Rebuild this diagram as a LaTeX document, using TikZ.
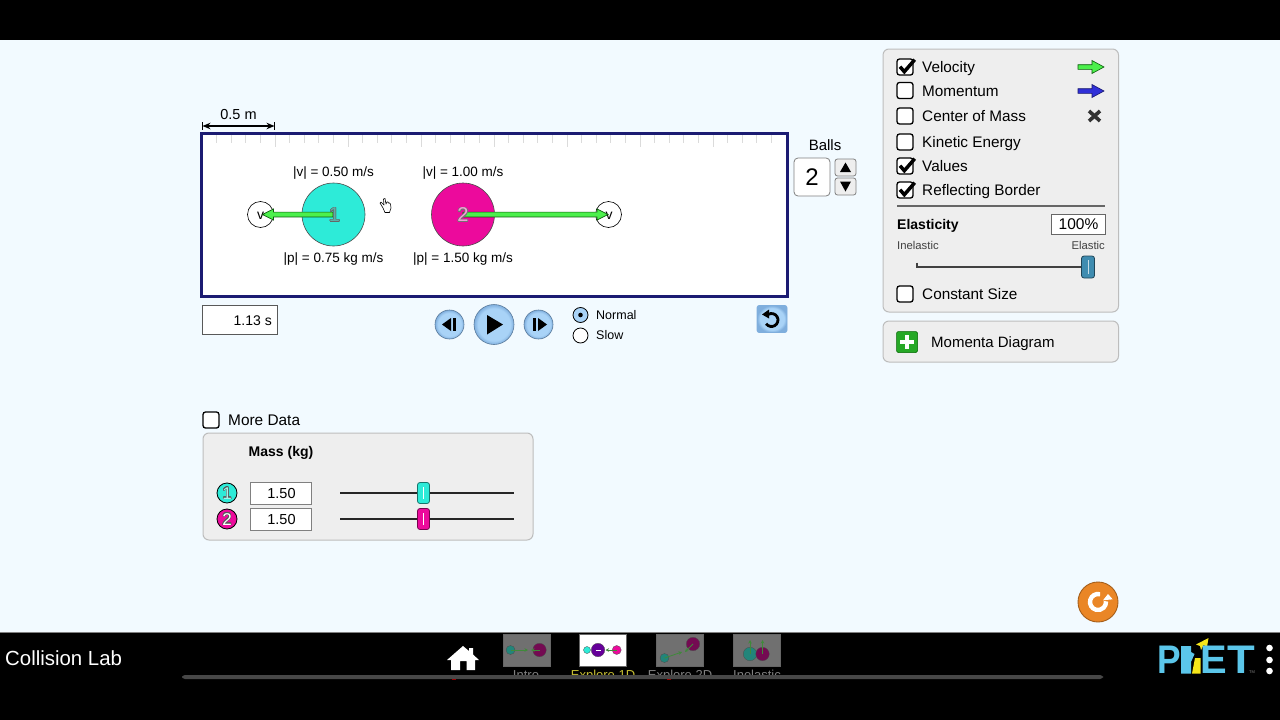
\documentclass[tikz,border=0pt]{standalone}
\usepackage{fontspec}
\usepackage{graphicx}
\usepackage{contour}
\setmainfont{Liberation Sans}
\usetikzlibrary{arrows.meta}
\definecolor{bgc}{HTML}{F2FAFF}
\definecolor{panelc}{HTML}{EEEEEE}
\definecolor{panelb}{HTML}{BDBDBD}
\definecolor{navyb}{HTML}{1B1B72}
\definecolor{turq}{HTML}{2DEBD8}
\definecolor{magn}{HTML}{EC0A9C}
\definecolor{arrg}{HTML}{4CF04C}
\definecolor{arrd}{HTML}{0B5A0B}
\definecolor{btnA}{HTML}{A9D3F7}
\definecolor{btnB}{HTML}{7FAEDD}
\definecolor{logob}{HTML}{5BC6EA}
\definecolor{logoy}{HTML}{F5E61A}
\definecolor{thg}{HTML}{707070}
\definecolor{slb}{HTML}{3F8CB0}
\definecolor{thteal}{HTML}{22857A}
\definecolor{thmag}{HTML}{740A52}
\definecolor{tharr}{HTML}{3F8A3A}
\definecolor{orng}{HTML}{EA8626}
\definecolor{momb}{HTML}{3030D8}
\pgfdeclareradialshading{btnshade}{\pgfpoint{0bp}{0bp}}{color(0bp)=(btnA); color(20bp)=(btnA); color(25bp)=(btnB); color(50bp)=(btnB)}
\tikzset{
  x=1pt,y=-1pt,
  tx/.style={font=\fontsize{#1}{#1}\selectfont,inner sep=0pt,text height={#1*0.72pt},text depth=0pt},
  logotx/.style={font=\fontsize{42}{42}\selectfont\bfseries,inner sep=0pt,text=logob},
  ckb/.style={draw=black,fill=white,rounded corners=2.5pt,line width=1.3pt,minimum size=16pt,inner sep=0pt},
  panelbox/.style={draw=panelb,fill=panelc,rounded corners=6pt,line width=1pt},
  valbox/.style={draw=gray,fill=white,line width=1pt,inner sep=0pt},
  rbtn/.style={circle,draw=btnB!70!black,line width=.6pt,shading=btnshade,inner sep=0pt},
  thumbn/.style={rounded corners=2.5pt,draw=#1!50!black,fill=#1,line width=.8pt,minimum width=12pt,minimum height=21pt,inner sep=0pt},
  thmb/.style={draw=black!60,fill=#1,line width=.4pt,minimum width=47pt,minimum height=32pt,inner sep=0pt},
  tinyball/.style={circle,draw=black!70,line width=.3pt,inner sep=0pt},
  tinyarr/.style={-{Stealth[length=3.5pt,width=3.5pt]},draw=#1,line width=.8pt},
}
\contourlength{.5pt}
\newcommand{\ckrow}[4]{% name, y, text, checked(1/0)
  \node[ckb] (#1box) at (905,#2) {};
  \node[tx=15.3,anchor=west] (#1txt) at (922,#2) {#3};
  \ifnum#4=1 \draw[line width=3.5pt,line join=miter] ([shift={(-5,-.3)}]#1box.center) -- ++(4.3,5) -- ++(10.4,-12); \fi
}
\newcommand{\varrow}[4]{% x1,x2,y,dir(+1 right,-1 left)
  \fill[arrg,draw=arrd,line width=.7pt] (#1,#3-2.4) -- (#2-#4*11,#3-2.4) -- (#2-#4*11,#3-5.6) -- (#2,#3) -- (#2-#4*11,#3+5.6) -- (#2-#4*11,#3+2.4) -- (#1,#3+2.4) -- cycle;
}
\begin{document}
\begin{tikzpicture}
\useasboundingbox (0,0) rectangle (1280,720);
\fill[bgc] (0,0) rectangle (1280,720);
\fill[black] (0,0) rectangle (1280,40);
\fill[black] (0,632) rectangle (1280,720);
\draw[gray,line width=.8pt] (0,632) -- (1280,632);

% play area
\fill[white] (201.5,133.5) rectangle (787.5,296);
\foreach \k in {0,...,40}{\draw[black!14,line width=.7pt] ({202+14.6*\k},135) -- ({202+14.6*\k},143);}
\foreach \k in {0,...,8}{\draw[black!14,line width=.7pt] ({202+73*\k},143) -- ({202+73*\k},147);}
\draw[navyb,line width=3pt] (201.5,133.5) rectangle (787.5,296);

% scale
\node[tx=14.5] (scaletxt) at (238.5,114) {0.5 m};
\coordinate (sl) at (202.5,126);
\coordinate (sr) at (274.5,126);
\draw[{Stealth[length=8pt,width=6.5pt]}-{Stealth[length=8pt,width=6.5pt]},line width=1.6pt] (sl) -- (sr);
\draw[line width=.8pt] (202.5,122) -- (202.5,130) (274.5,122) -- (274.5,130);

% balls
\node[circle,draw=black!70,fill=turq,line width=.6pt,minimum size=63pt,inner sep=0pt] (ball1) at (333.5,214.5) {};
\node[circle,draw=black!70,fill=magn,line width=.6pt,minimum size=63pt,inner sep=0pt] (ball2) at (463,214.5) {};
\node[circle,draw=black,fill=white,line width=.6pt,minimum size=26pt,inner sep=0pt] (v1) at (260.5,214.5) {};
\node[circle,draw=black,fill=white,line width=.6pt,minimum size=26pt,inner sep=0pt] (v2) at (608.5,214.5) {};
\node[tx=14] (v1t) at (260.5,214.5) {v};
\node[tx=14] (v2t) at (609,214.5) {v};
\varrow{333}{262.5}{214.5}{-1}
\varrow{463}{608}{214.5}{1}
\node[tx=20] (n1) at (334.5,214.5) {\contour{black!60}{\textcolor{turq!45!gray}{1}}};
\node[tx=20] (n2) at (463,214.5) {\contour{black!55}{\textcolor{magn!40!white}{2}}};
\node[tx=13.5] (v1lab) at (333.5,171.5) {|v| = 0.50 m/s};
\node[tx=13.5] (v2lab) at (463,171.5) {|v| = 1.00 m/s};
\node[tx=13.5] (p1lab) at (333.5,258) {|p| = 0.75 kg m/s};
\node[tx=13.5] (p2lab) at (463,258) {|p| = 1.50 kg m/s};

% hand cursor
\begin{scope}[shift={(386,206)},line width=.6pt,line join=round]
\draw[fill=white] (-5,-4) -- (-2,-1) -- (-2.5,-7) -- (-1,-7.5) -- (0,-2) -- (1,-4) -- (2,-4) -- (2.5,-3) -- (3.5,-3) -- (4.5,-2) -- (5,2) -- (3.5,6.5) -- (-1,6.5) -- (-3,2) -- (-6,-3) -- cycle;
\end{scope}

% time
\node[draw=black!65,fill=white,line width=1pt,minimum width=75pt,minimum height=29pt,inner sep=0pt] (timebox) at (239.5,319.5) {};
\node[tx=14,anchor=east] (timetxt) at (272,320) {1.13 s};

% transport
\node[rbtn,minimum size=29pt] (back) at (449.5,324.5) {};
\node[rbtn,minimum size=40pt] (play) at (494,324.5) {};
\node[rbtn,minimum size=29pt] (fwd) at (538.5,324.5) {};
\fill (451,318) -- (451,331) -- (442,324.5) -- cycle;
\fill (452.5,318) rectangle (455.5,331);
\fill (487,315) -- (487,334.5) -- (503,324.5) -- cycle;
\fill (538,318) -- (538,331) -- (547,324.5) -- cycle;
\fill (533,318) rectangle (536,331);
\node[circle,draw=black,fill=btnA,line width=.8pt,minimum size=15pt,inner sep=0pt] (rnorm) at (580.5,315) {};
\fill (rnorm.center) circle (2.3);
\node[circle,draw=black,fill=white,line width=.8pt,minimum size=15pt,inner sep=0pt] (rslow) at (580.5,335.5) {};
\node[tx=12.5,anchor=west] (normt) at (596,315) {Normal};
\node[tx=12.5,anchor=west] (slowt) at (596,335) {Slow};
\node[rounded corners=2pt,shading=btnshade,draw=btnB,line width=.6pt,minimum width=30pt,minimum height=27pt,inner sep=0pt] (resetb) at (772,319) {};
\draw[line width=2.8pt] (771.5,320) ++(240:6.5) arc[start angle=240,delta angle=265,radius=6.5];
\fill (769,309.5) -- (769,318.5) -- (762,314.5) -- cycle;

% balls spinner
\node[tx=15] (ballst) at (825,145) {Balls};
\node[draw=black!50,fill=white,rounded corners=4pt,line width=.8pt,minimum width=36pt,minimum height=38pt,inner sep=0pt] (ballsbox) at (812,177) {};
\node[tx=24] (ballsn) at (812,177) {2};
\node[draw=black!50,fill=panelc,rounded corners=2.5pt,line width=.8pt,minimum width=21pt,minimum height=17pt,inner sep=0pt] (upb) at (845.5,167.5) {};
\node[draw=black!50,fill=panelc,rounded corners=2.5pt,line width=.8pt,minimum width=21pt,minimum height=17pt,inner sep=0pt] (dnb) at (845.5,186.5) {};
\fill (840,172) -- (851,172) -- (845.5,162.5) -- cycle;
\fill (840,181.5) -- (851,181.5) -- (845.5,191.5) -- cycle;

% right panel
\draw[panelbox] (883,49) rectangle (1118.5,312);
\ckrow{vel}{67}{Velocity}{1}
\ckrow{mom}{90.5}{Momentum}{0}
\ckrow{com}{116}{Center of Mass}{0}
\ckrow{ke}{142}{Kinetic Energy}{0}
\ckrow{vals}{166}{Values}{1}
\ckrow{refl}{190}{Reflecting Border}{1}
\fill[arrg,draw=arrd,line width=.6pt] (1078,64.7) -- (1092,64.7) -- (1092,60.5) -- (1104,67) -- (1092,73.5) -- (1092,69.3) -- (1078,69.3) -- cycle;
\fill[momb,draw=momb!50!black,line width=.6pt] (1078,88.7) -- (1092,88.7) -- (1092,84.5) -- (1104,91) -- (1092,97.5) -- (1092,93.3) -- (1078,93.3) -- cycle;
\draw[black!80,line width=3.6pt] (1089,111) -- (1100,121) (1100,111) -- (1089,121);
\draw[black!60,line width=1.2pt] (897,206) -- (1105,206);
\node[tx=14,anchor=west] (elast) at (897,224) {\bfseries Elasticity};
\node[valbox,minimum width=54pt,minimum height=20pt,draw=black!60] (elbox) at (1078,224) {};
\node[tx=15.5] (elval) at (1078.5,224) {100\%};
\node[tx=11.3,anchor=west,text=black!75] (inel) at (897,245) {Inelastic};
\node[tx=11.3,anchor=east,text=black!75] (elas) at (1105,245) {Elastic};
\draw[black!75,line width=1.2pt] (917,262.5) -- (917,267) -- (1082,267);
\node[thumbn=slb,minimum width=13pt,minimum height=22pt] (elth) at (1088,267) {};
\draw[white!70!slb,line width=1pt] (1088,260) -- (1088,274);
\node[ckb] (csbox) at (905,294) {};
\node[tx=15.3,anchor=west] (cstxt) at (922,294) {Constant Size};

% momenta panel
\draw[panelbox] (883,321) rectangle (1118.5,362);
\node[fill=green!60!black!85!white,rounded corners=1.5pt,draw=green!40!black,line width=.5pt,minimum width=21pt,minimum height=21pt,inner sep=0pt] (plusb) at (907,342) {};
\draw[white,line width=3.2pt] (900,342) -- (914,342) (907,335) -- (907,349);
\node[tx=15,anchor=west] (momt) at (931,342) {Momenta Diagram};

% mass panel
\node[ckb] (mdbox) at (211,420) {};
\node[tx=15.4,anchor=west] (mdtxt) at (228,420) {More Data};
\draw[panelbox] (203,433) rectangle (533,540);
\node[tx=14] (masst) at (281,451) {\bfseries Mass (kg)};
\node[circle,draw=black,fill=turq,line width=.8pt,minimum size=20pt,inner sep=0pt] (c1) at (227,493) {};
\node[circle,draw=black,fill=magn,line width=.8pt,minimum size=20pt,inner sep=0pt] (c2) at (227,519) {};
\node[tx=17] (c1t) at (227,493) {\contour{black!65}{\textcolor{turq!45!white}{1}}};
\node[tx=17] (c2t) at (227,519) {\contour{black!65}{\textcolor{white}{2}}};
\node[valbox,minimum width=61pt,minimum height=22pt] (m1box) at (280.5,493) {};
\node[valbox,minimum width=61pt,minimum height=22pt] (m2box) at (280.5,519) {};
\node[tx=14.5] (m1t) at (281.5,493) {1.50};
\node[tx=14.5] (m2t) at (281.5,519) {1.50};
\draw[black!85,line width=1.1pt] (340,493) -- (513.5,493);
\draw[black!85,line width=1.1pt] (340,519) -- (513.5,519);
\node[thumbn=turq] (t1) at (423.5,493) {};
\node[thumbn=magn] (t2) at (423.5,519) {};
\draw[white,line width=1pt] (423.5,487) -- (423.5,499) (423.5,513) -- (423.5,525);

% orange reset
\node[circle,draw=orng!70!black,line width=.9pt,fill=orng,minimum size=40pt,inner sep=0pt] (resetall) at (1098,602) {};
\draw[white,line width=4.4pt] (1098,602) ++(285:8) arc[start angle=285,delta angle=-290,radius=8];
\fill[white] (1103,600.3) -- (1112.7,599.3) -- (1108,594) -- cycle;

% nav bar
\node[tx=20.4,anchor=west,text=white] (title) at (5,658) {Collision Lab};
\fill[white] (463,646) -- (469,651) -- (469,648) -- (473,648) -- (473,654.5) -- (479,660) -- (475,660) -- (475,670) -- (466.5,670) -- (466.5,661) -- (460,661) -- (460,670) -- (451,670) -- (451,660) -- (447,660) -- cycle;

\node[thmb=thg] (th1) at (526.5,650) {};
\node[thmb=white] (th2) at (603,650) {};
\node[thmb=thg] (th3) at (679.5,650) {};
\node[thmb=thg] (th4) at (756.5,650) {};
% thumbnails
\node[tinyball,fill=thteal,minimum size=9pt] (a1) at (510.5,650) {};
\node[tinyball,fill=thmag,minimum size=13.5pt] (a2) at (539.5,650) {};
\draw[tinyarr=tharr] (a1.center) -- (528,650);
\draw[tinyarr=tharr] (a2.center) -- (531,650);
\node[tinyball,fill=turq,minimum size=7pt] (b1) at (587,650) {};
\node[tinyball,fill=violet!80!blue,minimum size=13.5pt] (b2) at (598,650) {};
\node[tinyball,fill=magn,minimum size=9pt] (b3) at (616.7,650) {};
\draw[tinyarr=tharr] (b3.center) -- (605.5,650);
\draw[white,line width=1pt] (595.5,650) -- (600.5,650);
\node[tinyball,fill=thteal,minimum size=9pt] (d1) at (664.5,658) {};
\node[tinyball,fill=thmag,minimum size=13.5pt] (d2) at (693,644) {};
\draw[tinyarr=tharr] (d1.center) -- (682,652);
\draw[tinyarr=tharr] (d2.center) -- (685,652);
\node[tinyball,fill=thteal,minimum size=13.5pt] (e1) at (750,654) {};
\node[tinyball,fill=thmag,minimum size=13.5pt] (e2) at (762.5,654) {};
\draw[tinyarr=tharr] (e1.center) -- (750,640);
\draw[tinyarr=tharr] (e2.center) -- (762.5,640);
\node[tx=13,text=black!50] (l1) at (526,675) {Intro};
\node[tx=13,text=yellow!75!black] (l2) at (603,675) {Explore 1D};
\node[tx=13,text=black!50] (l3) at (680,675) {Explore 2D};
\node[tx=13,text=black!50] (l4) at (757,675) {Inelastic};
\fill[black] (0,679) rectangle (1280,700);
\fill[black!72,rounded corners=3pt] (182,675) -- (1103,675) -- (1103,679) -- (182,679) -- cycle;
\fill[red!60!black] (452,678.5) rectangle (456,680);
\fill[red!60!black] (667,678.5) rectangle (671,680);

% PhET logo
\node[logotx,anchor=base west] (logoP) at (1157.5,673.5) {\scalebox{.84}[.95]{P}};
\fill[logob] (1181,646) -- (1191,646) -- (1191,652) -- (1194.5,654) -- (1191,662) -- (1191,673.5) -- (1181,673.5) -- cycle;
\fill[logoy] (1195,658) -- (1200.7,658) -- (1200.7,673.5) -- (1192,673.5) -- cycle;
\fill[logoy] (1196,644.5) -- (1208.5,638) -- (1207,647) -- (1203.5,645) -- (1201,650) -- (1200,646) -- cycle;
\node[logotx,anchor=base west] (logoE) at (1200.5,673.5) {\scalebox{.95}[.95]{E}};
\node[logotx,anchor=base east] (logoT) at (1255.5,673.5) {\scalebox{1.08}[.95]{T}};
\node[tx=4,text=black!50!white,anchor=west] (tm) at (1249,672.5) {TM};
\fill[white] (1269.5,648) circle (3.3) (1269.5,660) circle (3.3) (1269.5,671) circle (3.3);
\end{tikzpicture}
\end{document}
